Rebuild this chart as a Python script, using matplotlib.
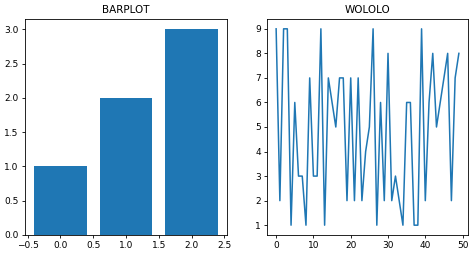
import numpy as np
import matplotlib.pyplot as plt

# bar panel
bar_x = [0, 1, 2]
bar_heights = [1, 2, 3]

# line panel: values, x = 0..49
line_y = [9, 2, 9, 9, 1, 6, 3, 3, 1, 7,
          3, 3, 9, 1, 7, 6, 5, 7, 7, 2,
          7, 2, 7, 2, 4, 5, 9, 1, 6, 2,
          8, 2, 3, 2, 1, 6, 6, 1, 1, 9,
          2, 6, 8, 5, 6, 7, 8, 2, 7, 8]
line_x = np.arange(len(line_y))

plt.rcParams['font.size'] = 6.5
plt.rcParams['axes.linewidth'] = 0.6
plt.rcParams['xtick.major.width'] = 0.6
plt.rcParams['ytick.major.width'] = 0.6
plt.rcParams['xtick.major.size'] = 2.5
plt.rcParams['ytick.major.size'] = 2.5
plt.rcParams['xtick.major.pad'] = 2
plt.rcParams['ytick.major.pad'] = 2

fig = plt.figure(figsize=(4.74, 2.54), dpi=100)
W, H = 474, 254
ax1 = fig.add_axes([25 / W, 19 / H, 202 / W, 216 / H])
ax2 = fig.add_axes([267 / W, 19 / H, 201 / W, 216 / H])

ax1.bar(bar_x, bar_heights, color='#1f77b4')
ax1.set_title('BARPLOT', fontsize=7.5, pad=4)

ax2.plot(line_x, line_y, color='#1f77b4', linewidth=1.1)
ax2.set_title('WOLOLO', fontsize=7.5, pad=4)
ax2.set_xticks([0, 10, 20, 30, 40, 50])
ax2.set_yticks(range(1, 10))

plt.savefig('out.png', dpi=100)
